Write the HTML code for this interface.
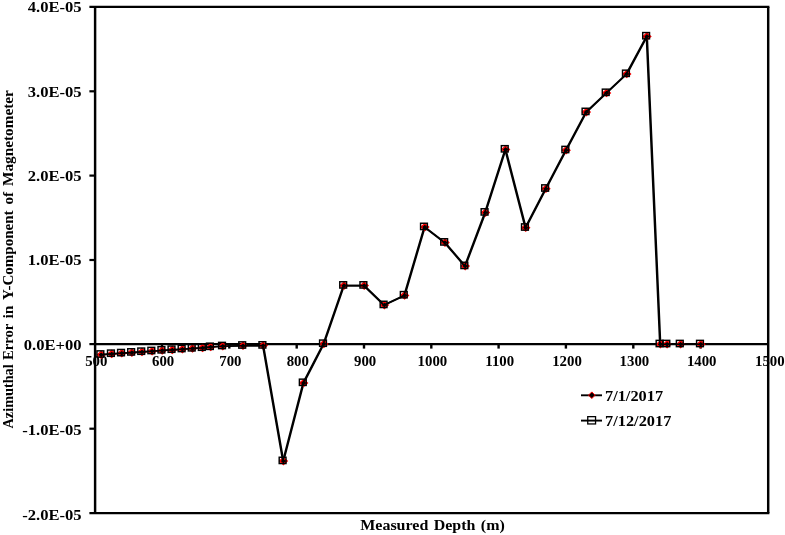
<!DOCTYPE html>
<html><head><meta charset="utf-8"><title>Azimuthal Error chart</title>
<style>
html,body{margin:0;padding:0;background:#fff;}
body{width:785px;height:535px;overflow:hidden;}
svg{display:block;}
text{font-family:"Liberation Serif","DejaVu Serif",serif;font-weight:bold;fill:#000;}
</style></head><body>
<svg width="785" height="535" viewBox="0 0 785 535">
<rect width="785" height="535" fill="#fff"/>

<g stroke="#000" stroke-width="2.3" fill="none" stroke-linecap="butt">
<path d="M95.1,6.9 V513.1" stroke-width="2.45"/>
<path d="M89.4,6.9 H769.4"/>
<path d="M89.4,513.1 H769.4"/>
<path d="M768.2,6.9 V513.1" stroke-width="2.45"/>
<path d="M95.0,344.1 H768"/>
</g>
<g stroke="#000" stroke-width="2.2">
<path d="M89.4,91.3 H95.0"/>
<path d="M89.4,175.6 H95.0"/>
<path d="M89.4,260.0 H95.0"/>
<path d="M89.4,344.1 H95.0"/>
<path d="M89.4,428.7 H95.0"/>
<path d="M162.0,344.1 V348.6" stroke-width="2.4"/>
<path d="M229.3,344.1 V348.6" stroke-width="2.4"/>
<path d="M296.7,344.1 V348.6" stroke-width="2.4"/>
<path d="M364.0,344.1 V348.6" stroke-width="2.4"/>
<path d="M431.3,344.1 V348.6" stroke-width="2.4"/>
<path d="M498.6,344.1 V348.6" stroke-width="2.4"/>
<path d="M565.9,344.1 V348.6" stroke-width="2.4"/>
<path d="M633.3,344.1 V348.6" stroke-width="2.4"/>
<path d="M700.6,344.1 V348.6" stroke-width="2.4"/>
</g>
<text transform="translate(81.6,12.0) scale(1.064,1)" font-size="15.6" text-anchor="end">4.0E-05</text>
<text transform="translate(81.6,96.6) scale(1.064,1)" font-size="15.6" text-anchor="end">3.0E-05</text>
<text transform="translate(81.6,181.0) scale(1.064,1)" font-size="15.6" text-anchor="end">2.0E-05</text>
<text transform="translate(81.6,265.4) scale(1.064,1)" font-size="15.6" text-anchor="end">1.0E-05</text>
<text transform="translate(81.6,349.8) scale(1.064,1)" font-size="15.6" text-anchor="end">0.0E+00</text>
<text transform="translate(81.6,434.6) scale(1.064,1)" font-size="15.6" text-anchor="end">-1.0E-05</text>
<text transform="translate(81.6,519.7) scale(1.064,1)" font-size="15.6" text-anchor="end">-2.0E-05</text>
<text transform="translate(96.3,365.5) scale(1.09,1)" font-size="13.6" text-anchor="middle">500</text>
<text transform="translate(163.1,365.5) scale(1.09,1)" font-size="13.6" text-anchor="middle">600</text>
<text transform="translate(230.4,365.5) scale(1.09,1)" font-size="13.6" text-anchor="middle">700</text>
<text transform="translate(297.8,365.5) scale(1.09,1)" font-size="13.6" text-anchor="middle">800</text>
<text transform="translate(365.1,365.5) scale(1.09,1)" font-size="13.6" text-anchor="middle">900</text>
<text transform="translate(432.4,365.5) scale(1.09,1)" font-size="13.6" text-anchor="middle">1000</text>
<text transform="translate(499.7,365.5) scale(1.09,1)" font-size="13.6" text-anchor="middle">1100</text>
<text transform="translate(567.0,365.5) scale(1.09,1)" font-size="13.6" text-anchor="middle">1200</text>
<text transform="translate(634.4,365.5) scale(1.09,1)" font-size="13.6" text-anchor="middle">1300</text>
<text transform="translate(701.7,365.5) scale(1.09,1)" font-size="13.6" text-anchor="middle">1400</text>
<text transform="translate(769.8,365.5) scale(1.09,1)" font-size="13.6" text-anchor="middle">1500</text>
<text transform="translate(432.5,529.9) scale(1.0667,1)" font-size="15" text-anchor="middle" word-spacing="1.3">Measured Depth (m)</text>
<text transform="translate(13.4,428.4) rotate(-90) scale(1,1.03)" font-size="15" textLength="64.0" lengthAdjust="spacingAndGlyphs">Azimuthal</text>
<text transform="translate(13.4,359.9) rotate(-90) scale(1,1.03)" font-size="15" textLength="36.2" lengthAdjust="spacingAndGlyphs">Error</text>
<text transform="translate(13.4,318.6) rotate(-90) scale(1,1.03)" font-size="15" textLength="13.1" lengthAdjust="spacingAndGlyphs">in</text>
<text transform="translate(13.4,300.1) rotate(-90) scale(1,1.03)" font-size="15" textLength="89.7" lengthAdjust="spacingAndGlyphs">Y-Component</text>
<text transform="translate(13.4,204.5) rotate(-90) scale(1,1.03)" font-size="15" textLength="12.6" lengthAdjust="spacingAndGlyphs">of</text>
<text transform="translate(13.4,186.0) rotate(-90) scale(1,1.03)" font-size="15" textLength="95.8" lengthAdjust="spacingAndGlyphs">Magnetometer</text>
<polyline points="101.4,354.7 112.0,353.9 122.1,353.3 132.2,352.6 142.3,351.9 152.4,351.2 162.5,350.5 172.6,349.9 182.7,349.2 192.8,348.5 202.9,347.9 210.9,347.0 223.1,346.2 243.3,345.7 263.5,345.6 283.6,461.1 303.8,383.0 324.0,343.9 344.2,285.6 364.4,285.6 384.6,305.1 404.8,295.4 425.0,227.1 445.2,242.6 465.4,266.1 485.6,212.6 505.8,149.5 526.0,227.7 546.2,188.7 566.4,150.2 586.6,112.1 606.8,93.0 627.0,74.0 647.2,36.4 660.6,344.2 667.4,344.2 680.8,344.2 701.0,344.2" fill="none" stroke="#000" stroke-width="1.65" stroke-linejoin="round"/>
<g fill="#000" stroke="#f00" stroke-width="1.5">
<path d="M101.2,351.4 L104.9,354.7 L101.2,358.0 L97.5,354.7Z"/>
<path d="M111.7,350.6 L115.4,353.9 L111.7,357.2 L108.0,353.9Z"/>
<path d="M121.8,350.0 L125.5,353.3 L121.8,356.6 L118.1,353.3Z"/>
<path d="M131.9,349.3 L135.6,352.6 L131.9,355.9 L128.2,352.6Z"/>
<path d="M142.0,348.6 L145.7,351.9 L142.0,355.2 L138.3,351.9Z"/>
<path d="M152.1,347.9 L155.8,351.2 L152.1,354.5 L148.4,351.2Z"/>
<path d="M162.2,347.2 L165.9,350.5 L162.2,353.8 L158.5,350.5Z"/>
<path d="M172.3,346.6 L176.0,349.9 L172.3,353.2 L168.6,349.9Z"/>
<path d="M182.4,345.9 L186.1,349.2 L182.4,352.5 L178.7,349.2Z"/>
<path d="M192.5,345.2 L196.2,348.5 L192.5,351.8 L188.8,348.5Z"/>
<path d="M202.6,344.6 L206.3,347.9 L202.6,351.2 L198.9,347.9Z"/>
<path d="M210.7,343.7 L214.4,347.0 L210.7,350.3 L207.0,347.0Z"/>
<path d="M222.8,342.9 L226.5,346.2 L222.8,349.5 L219.1,346.2Z"/>
<path d="M243.0,342.4 L246.7,345.7 L243.0,349.0 L239.3,345.7Z"/>
<path d="M263.2,342.3 L266.9,345.6 L263.2,348.9 L259.5,345.6Z"/>
<path d="M283.4,457.8 L287.1,461.1 L283.4,464.4 L279.7,461.1Z"/>
<path d="M303.6,379.7 L307.3,383.0 L303.6,386.3 L299.9,383.0Z"/>
<path d="M323.8,340.6 L327.5,343.9 L323.8,347.2 L320.1,343.9Z"/>
<path d="M344.0,282.3 L347.7,285.6 L344.0,288.9 L340.3,285.6Z"/>
<path d="M364.2,282.3 L367.9,285.6 L364.2,288.9 L360.5,285.6Z"/>
<path d="M384.4,301.8 L388.1,305.1 L384.4,308.4 L380.7,305.1Z"/>
<path d="M404.6,292.1 L408.3,295.4 L404.6,298.7 L400.9,295.4Z"/>
<path d="M424.8,223.8 L428.5,227.1 L424.8,230.4 L421.1,227.1Z"/>
<path d="M445.0,239.3 L448.7,242.6 L445.0,245.9 L441.3,242.6Z"/>
<path d="M465.2,262.8 L468.9,266.1 L465.2,269.4 L461.5,266.1Z"/>
<path d="M485.4,209.3 L489.1,212.6 L485.4,215.9 L481.7,212.6Z"/>
<path d="M505.6,146.2 L509.3,149.5 L505.6,152.8 L501.9,149.5Z"/>
<path d="M525.7,224.4 L529.4,227.7 L525.7,231.0 L522.0,227.7Z"/>
<path d="M545.9,185.4 L549.6,188.7 L545.9,192.0 L542.2,188.7Z"/>
<path d="M566.1,146.9 L569.8,150.2 L566.1,153.5 L562.4,150.2Z"/>
<path d="M586.3,108.8 L590.0,112.1 L586.3,115.4 L582.6,112.1Z"/>
<path d="M606.5,89.7 L610.2,93.0 L606.5,96.3 L602.8,93.0Z"/>
<path d="M626.7,70.7 L630.4,74.0 L626.7,77.3 L623.0,74.0Z"/>
<path d="M646.9,33.1 L650.6,36.4 L646.9,39.7 L643.2,36.4Z"/>
<path d="M660.4,340.9 L664.1,344.2 L660.4,347.5 L656.7,344.2Z"/>
<path d="M667.1,340.9 L670.8,344.2 L667.1,347.5 L663.4,344.2Z"/>
<path d="M680.6,340.9 L684.3,344.2 L680.6,347.5 L676.9,344.2Z"/>
<path d="M700.8,340.9 L704.5,344.2 L700.8,347.5 L697.1,344.2Z"/>
</g>
<polyline points="100.6,354.7 111.2,353.9 121.3,353.3 131.4,352.6 141.5,351.9 151.6,351.2 161.7,350.5 171.8,349.9 181.9,349.2 192.0,348.5 202.1,347.9 210.1,347.0 222.3,346.2 242.5,345.7 262.7,345.6 282.8,461.1 303.0,383.0 323.2,343.9 343.4,285.6 363.6,285.6 383.8,305.1 404.0,295.4 424.2,227.1 444.4,242.6 464.6,266.1 484.8,212.6 505.0,149.5 525.2,227.7 545.4,188.7 565.6,150.2 585.8,112.1 606.0,93.0 626.2,74.0 646.4,36.4 659.8,344.2 666.6,344.2 680.0,344.2 700.2,344.2" fill="none" stroke="#000" stroke-width="1.65" stroke-linejoin="round"/>
<g fill="none" stroke="#000" stroke-width="1.45">
<rect x="96.96" y="350.85" width="6.8" height="6.3"/>
<rect x="107.53" y="350.05" width="6.8" height="6.3"/>
<rect x="117.63" y="349.45" width="6.8" height="6.3"/>
<rect x="127.73" y="348.75" width="6.8" height="6.3"/>
<rect x="137.82" y="348.05" width="6.8" height="6.3"/>
<rect x="147.92" y="347.35" width="6.8" height="6.3"/>
<rect x="158.02" y="346.65" width="6.8" height="6.3"/>
<rect x="168.12" y="346.05" width="6.8" height="6.3"/>
<rect x="178.22" y="345.35" width="6.8" height="6.3"/>
<rect x="188.31" y="344.65" width="6.8" height="6.3"/>
<rect x="198.41" y="344.05" width="6.8" height="6.3"/>
<rect x="206.49" y="343.15" width="6.8" height="6.3"/>
<rect x="218.61" y="342.35" width="6.8" height="6.3"/>
<rect x="238.80" y="341.85" width="6.8" height="6.3"/>
<rect x="259.00" y="341.75" width="6.8" height="6.3"/>
<rect x="279.20" y="457.25" width="6.8" height="6.3"/>
<rect x="299.39" y="379.15" width="6.8" height="6.3"/>
<rect x="319.59" y="340.05" width="6.8" height="6.3"/>
<rect x="339.78" y="281.75" width="6.8" height="6.3"/>
<rect x="359.98" y="281.75" width="6.8" height="6.3"/>
<rect x="380.18" y="301.25" width="6.8" height="6.3"/>
<rect x="400.37" y="291.55" width="6.8" height="6.3"/>
<rect x="420.57" y="223.25" width="6.8" height="6.3"/>
<rect x="440.76" y="238.75" width="6.8" height="6.3"/>
<rect x="460.96" y="262.25" width="6.8" height="6.3"/>
<rect x="481.16" y="208.75" width="6.8" height="6.3"/>
<rect x="501.35" y="145.65" width="6.8" height="6.3"/>
<rect x="521.55" y="223.85" width="6.8" height="6.3"/>
<rect x="541.74" y="184.85" width="6.8" height="6.3"/>
<rect x="561.94" y="146.35" width="6.8" height="6.3"/>
<rect x="582.14" y="108.25" width="6.8" height="6.3"/>
<rect x="602.33" y="89.15" width="6.8" height="6.3"/>
<rect x="622.53" y="70.15" width="6.8" height="6.3"/>
<rect x="642.72" y="32.55" width="6.8" height="6.3"/>
<rect x="656.19" y="340.35" width="6.8" height="6.3"/>
<rect x="662.92" y="340.35" width="6.8" height="6.3"/>
<rect x="676.38" y="340.35" width="6.8" height="6.3"/>
<rect x="696.58" y="340.35" width="6.8" height="6.3"/>
</g>
<g stroke="#000" stroke-width="1.9"><path d="M581,395.3 H602"/><path d="M581,420.6 H602"/></g>
<path d="M591.8,391.9 L595.1,395.2 L591.8,398.5 L588.5,395.2Z" fill="#000" stroke="#f00" stroke-width="1"/>
<rect x="587.75" y="416.65" width="7.8" height="7.3" fill="none" stroke="#000" stroke-width="1.3"/>
<text transform="translate(605.0,400.5) scale(1.09,1)" font-size="15" text-anchor="start">7/1/2017</text>
<text transform="translate(605.0,426.0) scale(1.092,1)" font-size="15" text-anchor="start">7/12/2017</text>
</svg></body></html>
